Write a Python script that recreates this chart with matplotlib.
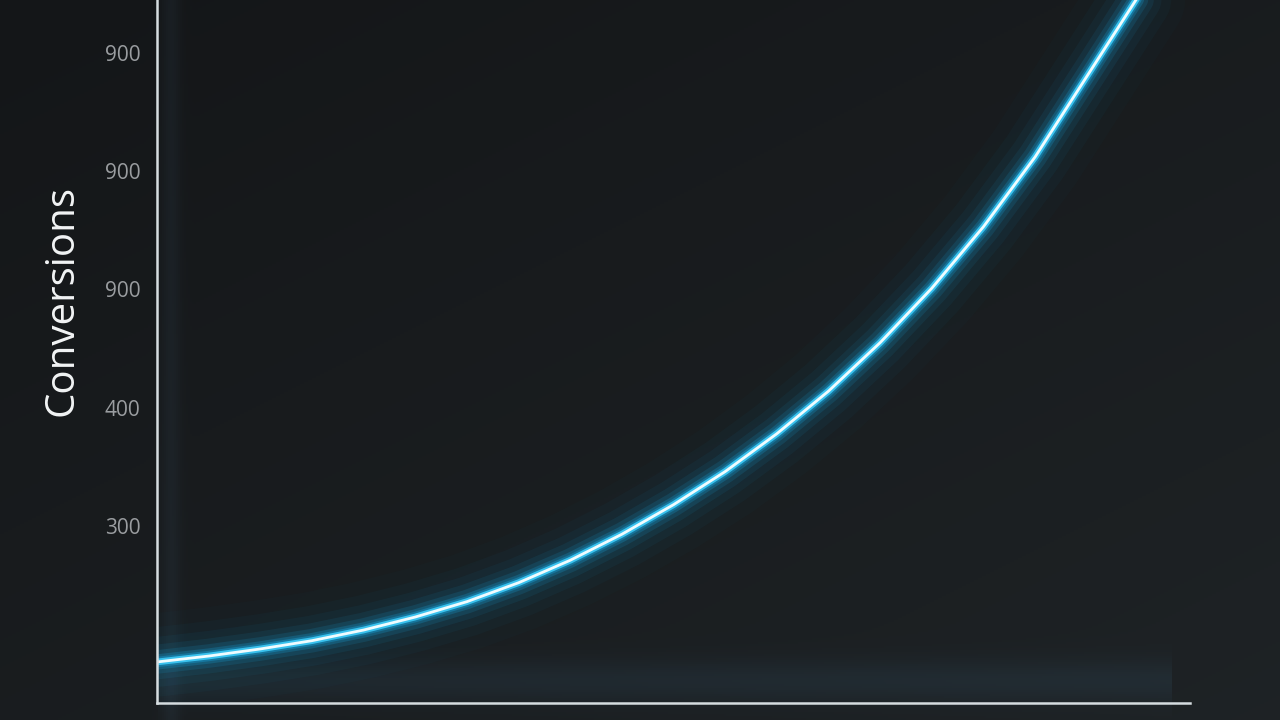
import numpy as np
import matplotlib
matplotlib.use("Agg")
import matplotlib.pyplot as plt

# ---- data ----
x_vals = [0, 0.5, 1, 1.5, 2, 2.5, 3, 3.5, 4, 4.5, 5, 5.5, 6, 6.5, 7, 7.5, 8, 8.5, 9, 9.5, 10]
conversions = [185, 190, 196, 203, 212, 223, 236, 252, 271, 293, 318, 346, 378, 414, 455,
               501, 553, 612, 680, 748, 822]
y_ticks = [300, 400, 500, 600, 700]
y_tick_labels = ["300", "400", "900", "900", "900"]
y_label = "Conversions"

BG = "#151719"
fig = plt.figure(figsize=(12.8, 7.2), dpi=100, facecolor=BG)

# background gradient (figure level)
bg_ax = fig.add_axes([0, 0, 1, 1], zorder=-10)
bg_ax.axis("off")
h, w = 360, 640
yy, xx = np.mgrid[0:h, 0:w] / np.array([h, w])[:, None, None]
c_dark = np.array([0x14, 0x16, 0x18]) / 255
c_light = np.array([0x20, 0x25, 0x28]) / 255
t = np.clip(0.4 * xx + 0.45 * yy, 0, 1)[..., None]
base = c_dark * (1 - t) + c_light * t
# light band near bottom axis
band = np.exp(-((yy - 0.945) / 0.03) ** 2)[..., None] * ((xx > 0.123) & (xx < 0.915))[..., None]
base = base + band * np.array([0.018, 0.04, 0.055])
# faint band along left spine
vband = np.exp(-((xx - 0.133) / 0.007) ** 2)[..., None]
base = base + vband * np.array([0.018, 0.03, 0.04])
bg_ax.imshow(np.clip(base, 0, 1), extent=[0, 1, 0, 1], origin="upper", aspect="auto")
bg_ax.set_xlim(0, 1)
bg_ax.set_ylim(0, 1)

ax = fig.add_axes([157 / 1280, 17 / 720, (1190 - 157) / 1280, 1 - 17 / 720])
ax.patch.set_alpha(0)
ax.set_xlim(0, 10)
ax.set_ylim(150.3, 744.8)

# glow layers
glow_color = "#169fd6"
for lw, a in [(70, 0.02), (50, 0.035), (36, 0.055), (25, 0.09), (17, 0.15), (11, 0.25), (7.5, 0.4)]:
    ax.plot(x_vals, conversions, color=glow_color, lw=lw, alpha=a,
            solid_capstyle="round", solid_joinstyle="round")
ax.plot(x_vals, conversions, color="#3cc6f2", lw=4.8, alpha=0.95,
        solid_capstyle="round", solid_joinstyle="round")
ax.plot(x_vals, conversions, color="#f0fcff", lw=2.0,
        solid_capstyle="round", solid_joinstyle="round")

for s in ["top", "right"]:
    ax.spines[s].set_visible(False)
for s in ["left", "bottom"]:
    ax.spines[s].set_color("#d6dde0")
    ax.spines[s].set_linewidth(1.8)
    ax.spines[s].set_zorder(5)

ax.set_yticks(y_ticks)
ax.set_yticklabels(y_tick_labels)
ax.set_xticks([])
ax.tick_params(axis="y", length=0, pad=12, labelsize=15, labelcolor="#9a9da0")
for lbl in ax.get_yticklabels():
    lbl.set_family(["Open Sans", "DejaVu Sans"])

fig.text(62 / 1280, 1 - 300 / 720, y_label, rotation=90, ha="center", va="center",
         color="#f2f4f5", fontsize=29, family=["Open Sans", "DejaVu Sans"])

fig.savefig("out.png", dpi=100, facecolor=BG)
